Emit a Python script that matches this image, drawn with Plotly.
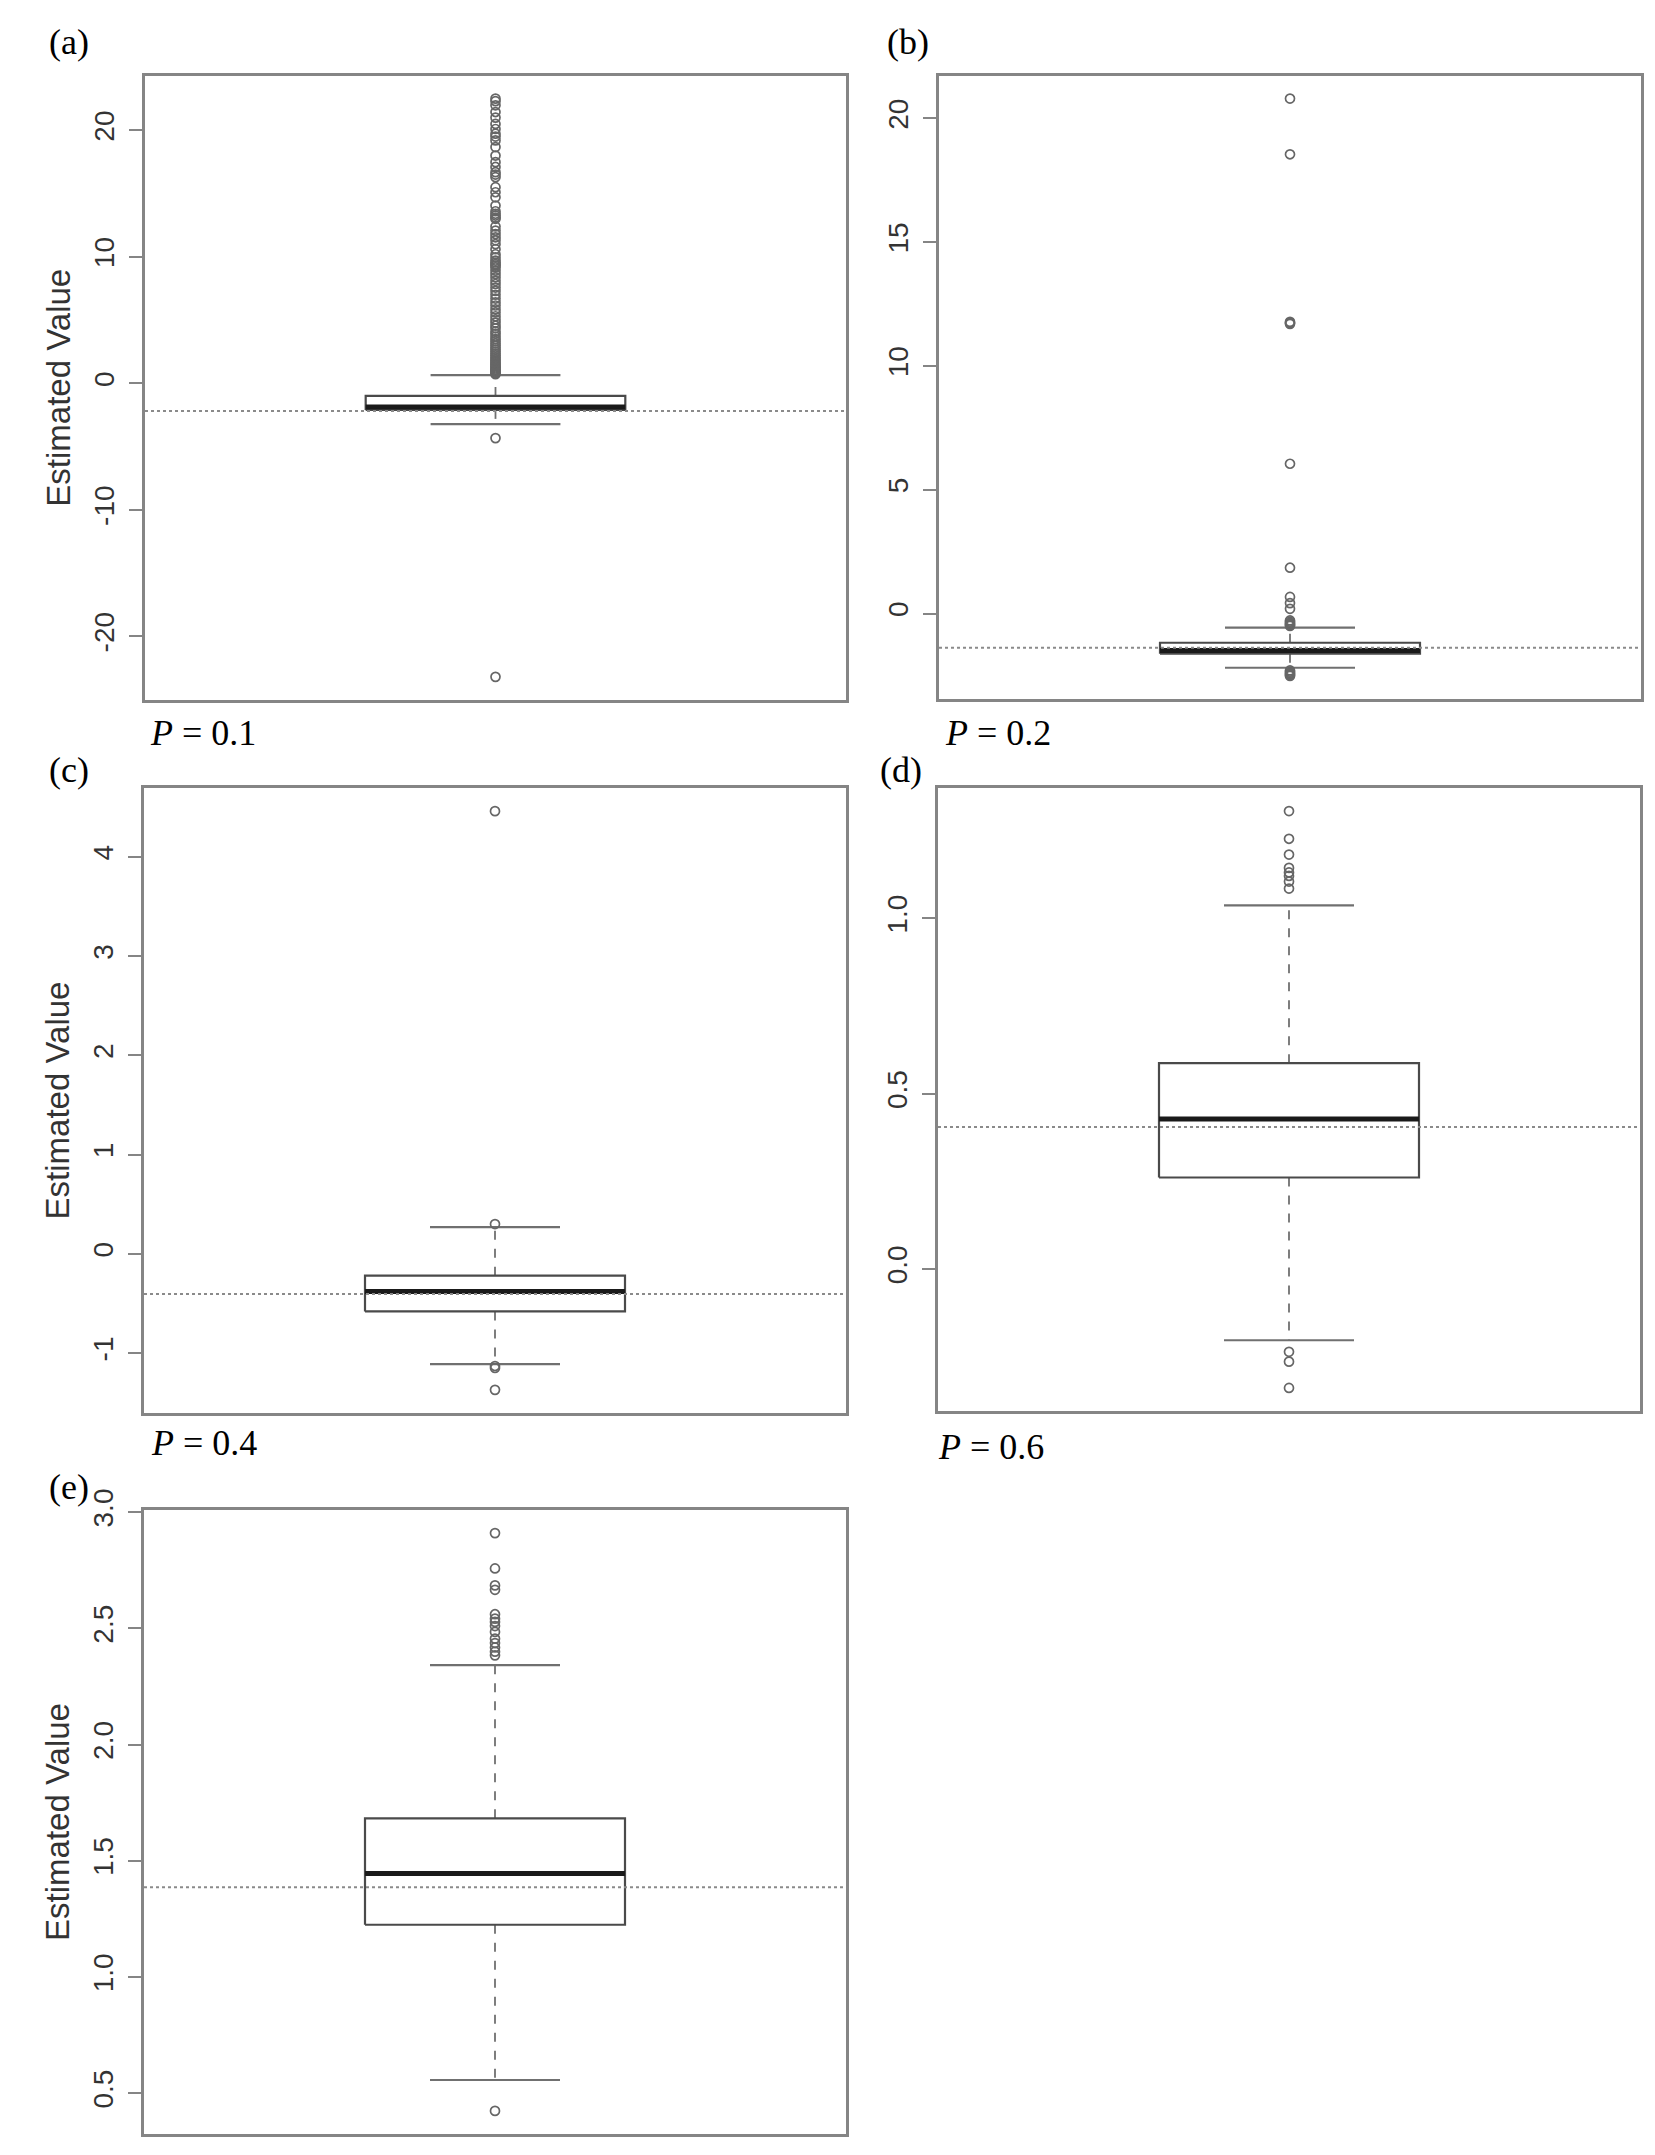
import plotly.graph_objects as go

# ---------------- data ----------------
panel_labels = ["(a)", "(b)", "(c)", "(d)", "(e)"]
p_values = ["0.1", "0.2", "0.4", "0.6", "0.8"]
true_values = [-2.197, -1.386, -0.405, 0.405, 1.386]

q1_values = [-2.10, -1.62, -0.58, 0.261, 1.225]
median_values = [-1.88, -1.49, -0.38, 0.428, 1.445]
q3_values = [-1.00, -1.18, -0.22, 0.587, 1.683]
lower_whiskers = [-3.22, -2.19, -1.11, -0.203, 0.557]
upper_whiskers = [0.64, -0.57, 0.27, 1.037, 2.342]

outliers_a = [0.72, 0.78, 0.85, 0.93, 1.0, 1.08, 1.17, 1.25, 1.34, 1.46, 1.55, 1.68,
              1.79, 1.92, 2.05, 2.2, 2.34, 2.5, 2.66, 2.81, 2.98, 3.15, 3.33, 3.5,
              3.7, 3.92, 4.1, 4.35, 4.55, 4.8, 5.05, 5.3, 5.6, 5.85, 6.15, 6.4, 6.7,
              7.0, 7.3, 7.57, 7.85, 8.1, 8.38, 8.64, 8.9, 9.16, 9.3, 9.42, 9.55, 9.7,
              9.95, 10.2, 10.6, 11.0, 11.3, 11.54, 11.8, 12.07, 12.4, 13.0, 13.1,
              13.26, 13.4, 13.6, 14.05, 14.7, 15.1, 15.5, 16.29, 16.5, 16.69, 17.1,
              17.48, 18.0, 18.67, 19.2, 19.5, 19.73, 20.1, 20.5, 21.0, 21.44, 21.97,
              22.3, 22.5, -4.33, -23.2]
outliers_b = [20.8, 18.55, 11.78, 11.74, 11.7, 6.05, 1.85, 0.67, 0.42, 0.19,
              -0.28, -0.33, -0.38, -0.42, -0.46, -0.5,
              -2.3, -2.35, -2.4, -2.44, -2.48, -2.52]
outliers_c = [4.46, 0.30, -1.13, -1.15, -1.37]
outliers_d = [1.306, 1.227, 1.182, 1.144, 1.131, 1.121, 1.105, 1.085,
              -0.236, -0.264, -0.339]
outliers_e = [2.91, 2.758, 2.685, 2.666, 2.561, 2.542, 2.528, 2.51, 2.485, 2.456,
              2.437, 2.418, 2.40, 2.384, 0.424]
outliers = [outliers_a, outliers_b, outliers_c, outliers_d, outliers_e]

tick_values = [[-20, -10, 0, 10, 20],
               [0, 5, 10, 15, 20],
               [-1, 0, 1, 2, 3, 4],
               [0.0, 0.5, 1.0],
               [0.5, 1.0, 1.5, 2.0, 2.5, 3.0]]
tick_labels = [["-20", "-10", "0", "10", "20"],
               ["0", "5", "10", "15", "20"],
               ["-1", "0", "1", "2", "3", "4"],
               ["0.0", "0.5", "1.0"],
               ["0.5", "1.0", "1.5", "2.0", "2.5", "3.0"]]
y_titles = ["Estimated Value", "", "Estimated Value", "", "Estimated Value"]

# ---------------- layout constants (pixels) ----------------
W, H = 1655, 2155
frames = [(145, 846, 75.5, 700), (939, 1641, 75.5, 699),
          (144, 846, 788, 1413), (938, 1640, 788, 1411),
          (144, 846, 1510, 2134)]
label_pos = [(47, 42), (885, 42), (47, 770), (878, 770), (47, 1487)]
plab_pos = [(148, 733), (943, 733), (149, 1443), (936, 1447), (157, 2170)]

X_LO, X_HI = 0.46, 1.54
HALF_BOX = 0.2
HALF_STAPLE = 0.1

FRAME_COL = "#858585"
BOX_COL = "#4a4a4a"
WHISK_COL = "#707070"
PT_COL = "#666666"
TEXT_COL = "#333333"

fig = go.Figure()
layout = dict(width=W, height=H, margin=dict(l=0, r=0, t=0, b=0),
              paper_bgcolor="white", plot_bgcolor="white", showlegend=False)
annotations = []

for i in range(5):
    n = "" if i == 0 else str(i + 1)
    xa, ya = "x" + n, "y" + n
    q1, med, q3 = q1_values[i], median_values[i], q3_values[i]
    lw, uw = lower_whiskers[i], upper_whiskers[i]
    pts = outliers[i]

    # whiskers (dashed)
    fig.add_trace(go.Scatter(x=[1, 1, None, 1, 1], y=[q3, uw, None, q1, lw],
                             mode="lines", xaxis=xa, yaxis=ya, hoverinfo="skip",
                             line=dict(color=WHISK_COL, width=1.8, dash="dash")))
    # staples
    fig.add_trace(go.Scatter(x=[1 - HALF_STAPLE, 1 + HALF_STAPLE, None, 1 - HALF_STAPLE, 1 + HALF_STAPLE],
                             y=[uw, uw, None, lw, lw], mode="lines", xaxis=xa, yaxis=ya,
                             hoverinfo="skip", line=dict(color=WHISK_COL, width=2.2)))
    # box
    fig.add_trace(go.Scatter(x=[1 - HALF_BOX, 1 + HALF_BOX, 1 + HALF_BOX, 1 - HALF_BOX, 1 - HALF_BOX],
                             y=[q1, q1, q3, q3, q1], mode="lines", fill="toself",
                             fillcolor="white", xaxis=xa, yaxis=ya, hoverinfo="skip",
                             line=dict(color=BOX_COL, width=2.2)))
    # median
    fig.add_trace(go.Scatter(x=[1 - HALF_BOX, 1 + HALF_BOX], y=[med, med], mode="lines",
                             xaxis=xa, yaxis=ya, hoverinfo="skip",
                             line=dict(color="#1a1a1a", width=5)))
    # reference (true) value
    fig.add_trace(go.Scatter(x=[X_LO, X_HI], y=[true_values[i], true_values[i]], mode="lines",
                             xaxis=xa, yaxis=ya, hoverinfo="skip",
                             line=dict(color="#8a8a8a", width=2, dash="dot")))
    # outliers
    fig.add_trace(go.Scatter(x=[1] * len(pts), y=pts, mode="markers", xaxis=xa, yaxis=ya,
                             marker=dict(symbol="circle-open", size=9, color=PT_COL,
                                         line=dict(width=1.7, color=PT_COL))))

    allv = pts + [lw, uw, q1, q3]
    lo, hi = min(allv), max(allv)
    pad = 0.04 * (hi - lo)

    x0, x1, y0, y1 = frames[i]
    layout["xaxis" + n] = dict(domain=[x0 / W, x1 / W], range=[X_LO, X_HI], anchor=ya,
                               showticklabels=False, ticks="", showgrid=False, zeroline=False,
                               showline=True, mirror=True, linecolor=FRAME_COL, linewidth=3,
                               fixedrange=True)
    layout["yaxis" + n] = dict(domain=[1 - y1 / H, 1 - y0 / H], range=[lo - pad, hi + pad],
                               anchor=xa, tickvals=tick_values[i], ticktext=tick_labels[i],
                               tickangle=-90, ticks="outside", ticklen=13, tickwidth=2,
                               tickcolor=FRAME_COL, showgrid=False, zeroline=False,
                               showline=True, mirror=True, linecolor=FRAME_COL, linewidth=3,
                               tickfont=dict(family="Liberation Sans", size=28, color=TEXT_COL),
                               ticklabelstandoff=4, automargin=False,
                               title=dict(text=y_titles[i], standoff=9,
                                          font=dict(family="Liberation Sans", size=33,
                                                    color=TEXT_COL)))

    lx, ly = label_pos[i]
    annotations.append(dict(text=panel_labels[i], x=lx / W, y=1 - ly / H, xref="paper",
                            yref="paper", xanchor="left", yanchor="middle", showarrow=False,
                            font=dict(family="Liberation Serif", size=36, color="black")))
    px, py = plab_pos[i]
    annotations.append(dict(text="<i>P</i> = " + p_values[i], x=px / W, y=1 - py / H,
                            xref="paper", yref="paper", xanchor="left", yanchor="middle",
                            showarrow=False,
                            font=dict(family="Liberation Serif", size=36, color="black")))

layout["annotations"] = annotations
fig.update_layout(**layout)
fig.write_html("out.html")
